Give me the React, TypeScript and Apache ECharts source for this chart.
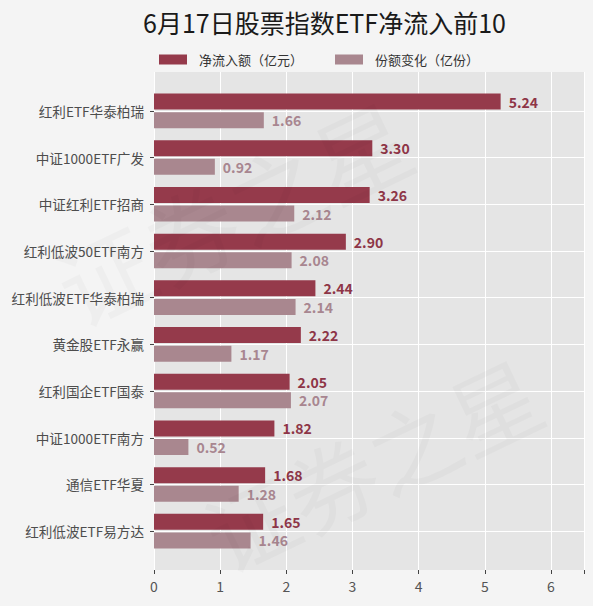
import React, { useEffect, useRef } from "react";
import * as echarts from "echarts";

const categories = [
  "红利ETF华泰柏瑞",
  "中证1000ETF广发",
  "中证红利ETF招商",
  "红利低波50ETF南方",
  "红利低波ETF华泰柏瑞",
  "黄金股ETF永赢",
  "红利国企ETF国泰",
  "中证1000ETF南方",
  "通信ETF华夏",
  "红利低波ETF易方达",
];
const netInflow = [5.24, 3.3, 3.26, 2.9, 2.44, 2.22, 2.05, 1.82, 1.68, 1.65];
const shareChange = [1.66, 0.92, 2.12, 2.08, 2.14, 1.17, 2.07, 0.52, 1.28, 1.46];
const xTicks = [0, 1, 2, 3, 4, 5, 6];

const FONT = "'Noto Sans CJK SC', 'Noto Sans', sans-serif";
const DARK = "#953a4b";
const LIGHT = "#a9878f";

export default function App() {
  const ref = useRef<HTMLDivElement>(null);
  useEffect(() => {
    if (!ref.current) return;
    const chart = echarts.init(ref.current, undefined, { renderer: "svg" });
    const wm = (x: number, y: number, size: number) => ({
      type: "text",
      x,
      y,
      rotation: Math.PI / 7,
      z: 100,
      silent: true,
      style: {
        text: "证券之星",
        fill: "rgba(0,0,0,0.022)",
        font: `${size}px ${FONT}`,
      },
    });
    chart.setOption({
      animation: false,
      backgroundColor: "#f4f4f4",
      textStyle: { fontFamily: FONT },
      title: {
        text: "6月17日股票指数ETF净流入前10",
        left: 138,
        top: 4,
        textStyle: { fontSize: 25, fontWeight: "normal", color: "#1a1a1a", fontFamily: FONT },
      },
      legend: {
        left: 154,
        top: 48,
        itemWidth: 28,
        itemHeight: 10,
        itemGap: 32,
        icon: "rect",
        textStyle: { fontSize: 13, color: "#333", fontFamily: FONT, padding: [0, 0, 0, 7] },
        data: ["净流入额（亿元）", "份额变化（亿份）"],
      },
      graphic: [wm(40, 250, 95), wm(190, 500, 90)],
      grid: [
        {
          left: 154,
          right: 9,
          top: 72,
          bottom: 36,
          show: true,
          backgroundColor: "#e5e5e5",
          borderWidth: 0,
        },
        {
          left: 154,
          right: 9,
          top: 87.5,
          bottom: 51.5,
        },
      ],
      xAxis: [
        {
          gridIndex: 0,
          type: "value",
          min: 0,
          max: 6.5,
          interval: 1,
          axisLine: { show: false },
          axisTick: { show: true, length: 4, lineStyle: { color: "#444" } },
          axisLabel: {
            fontSize: 14,
            color: "#555",
            margin: 9,
            fontFamily: FONT,
            customValues: xTicks,
          },
          splitLine: { show: true, lineStyle: { color: "#ffffff", width: 1 } },
        },
        {
          gridIndex: 1,
          type: "value",
          min: 0,
          max: 6.5,
          show: false,
          splitLine: { show: false },
        },
      ],
      yAxis: [
        {
          gridIndex: 0,
          type: "value",
          show: false,
          splitLine: { show: false },
        },
        {
          gridIndex: 1,
          type: "category",
          inverse: true,
          data: categories,
          axisLine: { show: false },
          axisTick: { show: true, alignWithLabel: true, length: 4, lineStyle: { color: "#444" } },
          axisLabel: { fontSize: 13.6, color: "#4d4d4d", margin: 10, fontFamily: FONT },
          splitLine: { show: true, alignWithLabel: true, lineStyle: { color: "#ffffff", width: 1 } },
        },
      ],
      series: [
        {
          name: "净流入额（亿元）",
          type: "bar",
          xAxisIndex: 1,
          yAxisIndex: 1,
          data: netInflow,
          barWidth: 16,
          barGap: "16%",
          itemStyle: { color: DARK },
          label: {
            show: true,
            position: "right",
            distance: 8,
            color: "#8e3547",
            fontWeight: "bold",
            fontSize: 14,
            fontFamily: FONT,
            formatter: (p: any) => p.value.toFixed(2),
          },
        },
        {
          name: "份额变化（亿份）",
          type: "bar",
          xAxisIndex: 1,
          yAxisIndex: 1,
          data: shareChange,
          barWidth: 16,
          barGap: "16%",
          itemStyle: { color: LIGHT },
          label: {
            show: true,
            position: "right",
            distance: 8,
            color: "#a88690",
            fontWeight: "bold",
            fontSize: 14,
            fontFamily: FONT,
            formatter: (p: any) => p.value.toFixed(2),
          },
        },
      ],
    });
    return () => chart.dispose();
  }, []);
  return (
    <div
      ref={ref}
      style={{ position: "absolute", left: 0, top: 0, width: 593, height: 606 }}
    />
  );
}
